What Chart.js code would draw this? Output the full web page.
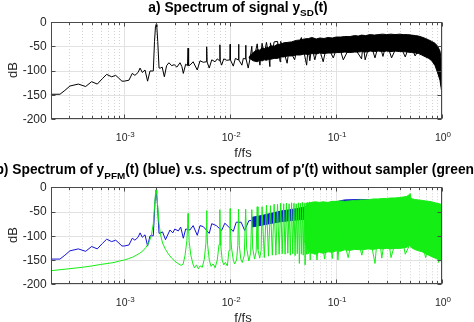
<!DOCTYPE html>
<html>
<head>
<meta charset="utf-8">
<script src="https://cdn.jsdelivr.net/npm/chart.js@4.4.1/dist/chart.umd.min.js"></script>
<style>
  html, body { margin: 0; padding: 0; background: #fff; }
  #wrap { position: relative; width: 474px; height: 322px; overflow: hidden; background: #fff; }
  canvas { position: absolute; left: 0; }
  #sdChart { top: 0; }
  #pfmChart { top: 160px; }
</style>
</head>
<body>
<div id="wrap">
  <canvas id="sdChart" width="474" height="160"></canvas>
  <canvas id="pfmChart" width="474" height="162"></canvas>
</div>
<script>
// ---------- axis ticks ----------
const F_MIN = 2.02e-4;
const F_MAX = 1;
const yTicks = [0, -50, -100, -150, -200];
const xDecades = [1e-3, 1e-2, 1e-1, 1];
const xDecadeExp = ['-3', '-2', '-1', '0'];

// ---------- (a) spectrum of y_SD(t): trace ----------
const sdFreq = [
  2.02e-4, 2.47e-4, 2.75e-4, 3.07e-4, 3.68e-4, 4.32e-4, 4.92e-4, 5.56e-4, 6.2e-4, 6.82e-4,
  7.6e-4, 8.3e-4, 8.9e-4, 9.5e-4, 1.0e-3, 1.107e-3, 1.19e-3, 1.26e-3, 1.35e-3, 1.41e-3,
  1.48e-3, 1.57e-3, 1.66e-3, 1.75e-3, 1.88e-3, 1.93e-3, 1.97e-3, 2.0e-3, 2.03e-3, 2.07e-3,
  2.13e-3, 2.19e-3, 2.28e-3, 2.39e-3, 2.51e-3, 2.64e-3, 2.80e-3, 2.96e-3, 3.14e-3, 3.36e-3,
  3.5e-3, 3.61e-3, 3.8e-3, 3.95e-3, 4.0e-3, 4.05e-3, 4.17e-3, 4.47e-3, 4.89e-3, 5.19e-3,
  5.57e-3, 5.95e-3, 6.0e-3, 6.05e-3, 6.34e-3, 6.7e-3, 7.2e-3, 7.55e-3, 7.95e-3, 8.0e-3,
  8.05e-3, 8.3e-3, 8.7e-3, 9.3e-3, 9.95e-3, 1.0e-2, 1.005e-2, 1.07e-2, 1.12e-2, 1.19e-2,
  1.2e-2, 1.21e-2, 1.29e-2, 1.33e-2, 1.39e-2, 1.4e-2, 1.41e-2, 1.48e-2, 1.55e-2, 1.6e-2,
  1.62e-2, 1.7e-2, 1.8e-2, 1.85e-2, 1.91e-2, 1.95e-2, 2.0e-2, 2.1e-2, 2.2e-2, 2.3e-2,
  2.37e-2, 2.4e-2, 2.5e-2, 2.6e-2, 2.8e-2, 2.96e-2, 3.0e-2, 3.2e-2, 3.45e-2, 3.6e-2,
  4.06e-2, 4.3e-2, 4.7e-2, 4.9e-2, 5.27e-2, 5.45e-2, 5.65e-2, 5.9e-2, 6.3e-2, 6.8e-2,
  7.55e-2, 8.2e-2, 9.4e-2, 0.105, 0.117, 0.14, 0.174, 0.18, 0.188, 0.21,
  0.233, 0.255, 0.277, 0.3, 0.334, 0.39, 0.45, 0.5, 0.557, 0.65,
  0.8, 0.9, 0.96, 0.99, 1.0
];
const sdDb = [
  -149, -149, -141, -132, -128, -133, -123, -128, -117, -108,
  -113, -110, -116, -122, -122, -120, -106, -110, -104, -95,
  -104, -99, -122, -101, -101, -40, -10, -5, -10, -40,
  -95, -95, -93, -113, -90, -84, -90, -88, -93, -84,
  -92, -106, -87, -90, -54, -90, -89, -82, -99, -80,
  -83, -82, -51, -82, -95, -78, -82, -76, -80, -47,
  -80, -89, -76, -79, -78, -46, -78, -91, -75, -78,
  -46, -78, -89, -75, -76, -48, -74, -95, -72, -50,
  -72, -70, -45, -70, -89, -68, -44, -66, -42, -66,
  -92, -43, -62, -41, -40, -82, -40, -60, -85, -55,
  -78, -52, -32, -55, -89, -52, -80, -50, -78, -48,
  -82, -46, -74, -45, -78, -44, -76, -44, -78, -42,
  -74, -42, -71, -42, -74, -42, -72, -43, -70, -46,
  -55, -80, -110, -135, -150
];

// ---------- (a) dense high-frequency part: envelope ----------
const sdBandFreq = [
  0.0150, 0.0165, 0.018, 0.019, 0.020, 0.021, 0.022, 0.023, 0.024, 0.026,
  0.028, 0.030, 0.032, 0.035, 0.038, 0.042, 0.046, 0.050, 0.055, 0.059,
  0.065, 0.070, 0.077, 0.084, 0.092, 0.10, 0.11, 0.121, 0.135, 0.15,
  0.162, 0.174, 0.19, 0.21, 0.23, 0.25, 0.275, 0.30, 0.33, 0.36,
  0.40, 0.43, 0.47, 0.517, 0.56, 0.6, 0.643, 0.70, 0.75, 0.80,
  0.86, 0.91, 0.957, 0.98, 1.0
];
const sdBandHigh = [
  -72, -63, -57, -58, -53, -55, -52, -53, -49, -50,
  -46, -46, -43, -42, -41, -38, -37, -35, -34, -32,
  -35, -33, -34, -32, -33, -31, -31, -30, -30, -28,
  -29, -27, -28, -26, -27, -26, -25, -26, -25, -26,
  -25, -26, -26, -27, -28, -29, -31, -34, -37, -40,
  -44, -50, -60, -75, -100
];
const sdBandLow = [
  -74, -80, -82, -79, -80, -78, -79, -77, -77, -75,
  -75, -72, -72, -70, -70, -68, -68, -66, -67, -65,
  -66, -64, -65, -64, -64, -63, -63, -62, -63, -62,
  -62, -61, -62, -60, -61, -60, -61, -60, -61, -60,
  -61, -61, -62, -63, -64, -65, -68, -72, -75, -80,
  -90, -105, -120, -135, -148
];

// ---------- (b) spectrum of y_PFM(t), blue: trace ----------
const pfmFreq = [
  2.02e-4, 2.47e-4, 2.75e-4, 3.07e-4, 3.68e-4, 4.32e-4, 4.92e-4, 5.56e-4, 6.2e-4, 6.82e-4,
  7.6e-4, 8.3e-4, 8.9e-4, 9.5e-4, 1.0e-3, 1.107e-3, 1.19e-3, 1.26e-3, 1.35e-3, 1.41e-3,
  1.48e-3, 1.57e-3, 1.66e-3, 1.75e-3, 1.88e-3, 1.95e-3, 2.0e-3, 2.05e-3, 2.13e-3, 2.3e-3,
  2.45e-3, 2.7e-3, 2.87e-3, 3.0e-3, 3.24e-3, 3.41e-3, 3.61e-3, 3.8e-3, 4.17e-3, 4.47e-3,
  4.89e-3, 5.19e-3, 5.57e-3, 6.34e-3, 6.7e-3, 7.4e-3, 8.3e-3, 8.9e-3, 1.07e-2, 1.14e-2,
  1.27e-2, 1.37e-2, 1.5e-2, 1.68e-2, 1.91e-2, 2.1e-2, 2.37e-2, 2.6e-2, 2.9e-2, 3.2e-2,
  3.5e-2, 4.0e-2, 6.0e-2, 0.1, 0.3, 0.6, 0.9, 0.97, 1.0
];
const pfmDb = [
  -148, -148, -140, -131, -127, -132, -122, -127, -116, -107,
  -112, -109, -115, -121, -121, -119, -105, -109, -103, -94,
  -103, -98, -121, -100, -100, -30, -6, -30, -95, -92,
  -108, -88, -94, -86, -90, -82, -105, -86, -88, -79,
  -99, -79, -81, -95, -75, -79, -89, -74, -91, -72,
  -72, -89, -69, -68, -60, -71, -54, -64, -51, -57,
  -48, -51, -50, -45, -45, -50, -90, -130, -168
];

// ---------- (b) y_PFM(t) dense part: envelope ----------
const pfmBandFreq = [
  0.016, 0.02, 0.025, 0.03, 0.04, 0.05, 0.06, 0.08, 0.1, 0.12,
  0.17, 0.25, 0.36, 0.5, 0.6, 0.75, 0.86, 0.95, 1.0
];
const pfmBandHigh = [
  -62, -58, -53, -49, -45, -41, -38, -34, -30, -26,
  -25, -27, -27, -25, -29, -35, -45, -58, -70
];
const pfmBandLow = [
  -82, -78, -74, -71, -68, -66, -64, -63, -62, -62,
  -60, -60, -60, -62, -65, -75, -95, -125, -150
];

// ---------- (b) spectrum of p'(t) without sampler, green: trace ----------
const pFreq = [
  2.02e-4, 3.0e-4, 4.0e-4, 5.0e-4, 6.0e-4, 7.0e-4, 8.0e-4, 9.0e-4, 1.0e-3, 1.1e-3,
  1.2e-3, 1.3e-3, 1.4e-3, 1.5e-3, 1.6e-3, 1.7e-3, 1.8e-3, 1.88e-3, 1.93e-3, 1.97e-3,
  2.0e-3, 2.03e-3, 2.07e-3, 2.13e-3, 2.2e-3, 2.3e-3, 2.45e-3, 2.6e-3, 2.8e-3, 3.0e-3,
  3.2e-3, 3.45e-3, 3.6e-3, 3.75e-3, 3.9e-3, 3.97e-3, 4.0e-3, 4.03e-3, 4.1e-3, 4.25e-3,
  4.45e-3, 4.6e-3, 4.8e-3, 5.0e-3, 5.2e-3, 5.45e-3, 5.7e-3, 5.9e-3, 5.97e-3, 6.0e-3,
  6.03e-3, 6.12e-3, 6.35e-3, 6.6e-3, 6.9e-3, 7.2e-3, 7.55e-3, 7.85e-3, 7.97e-3, 8.0e-3,
  8.03e-3, 8.15e-3, 8.4e-3, 8.7e-3, 9.0e-3, 9.4e-3, 9.75e-3, 9.95e-3, 1.0e-2, 1.005e-2,
  1.03e-2, 1.07e-2, 1.1e-2, 1.15e-2, 1.18e-2, 1.2e-2, 1.22e-2, 1.26e-2, 1.3e-2, 1.36e-2,
  1.4e-2, 1.43e-2, 1.5e-2, 1.56e-2, 1.6e-2, 1.63e-2, 1.7e-2, 1.76e-2, 1.8e-2, 1.83e-2,
  1.9e-2, 1.96e-2, 2.0e-2, 2.1e-2, 2.2e-2, 2.3e-2, 2.4e-2, 2.5e-2, 2.6e-2, 2.7e-2,
  2.8e-2, 2.9e-2, 3.0e-2, 3.1e-2, 3.2e-2, 3.3e-2, 3.4e-2, 3.5e-2, 3.6e-2, 3.7e-2,
  3.8e-2, 3.9e-2, 4.0e-2, 4.1e-2, 4.2e-2, 4.3e-2, 4.4e-2, 4.5e-2, 4.6e-2, 4.7e-2,
  4.8e-2, 4.9e-2, 5.0e-2, 5.1e-2, 5.2e-2, 5.3e-2, 5.4e-2, 5.5e-2, 5.6e-2, 5.7e-2,
  5.8e-2, 5.9e-2, 6.0e-2, 6.6e-2, 7.0e-2, 7.8e-2, 8.5e-2, 9.2e-2, 0.1, 0.104,
  0.11, 0.13, 0.15, 0.175, 0.2, 0.233, 0.25, 0.27, 0.3, 0.33,
  0.4, 0.45, 0.6, 0.7, 0.85, 0.93, 0.97, 1.0
];
const pDb = [
  -172, -168, -165, -162, -159, -157, -155, -152, -150, -147,
  -144, -140, -136, -131, -124, -115, -100, -75, -40, -14,
  -5, -14, -40, -75, -98, -115, -128, -137, -146, -152,
  -157, -161, -158, -140, -110, -75, -54, -75, -112, -140,
  -158, -166, -160, -168, -162, -165, -148, -115, -80, -48,
  -80, -118, -150, -163, -158, -166, -150, -118, -85, -46,
  -85, -120, -150, -160, -155, -162, -130, -90, -44, -90,
  -125, -150, -158, -150, -120, -45, -120, -148, -155, -140,
  -45, -125, -152, -135, -46, -125, -148, -132, -40, -128,
  -146, -130, -40, -145, -37, -142, -38, -140, -35, -140,
  -35, -138, -33, -137, -34, -138, -33, -136, -34, -140,
  -32, -137, -33, -141, -34, -137, -32, -157, -33, -138,
  -31, -140, -33, -160, -32, -138, -31, -137, -30, -150,
  -31, -136, -30, -150, -80, -148, -80, -147, -80, -150,
  -80, -145, -80, -140, -80, -157, -80, -146, -80, -145,
  -80, -138, -80, -145, -80, -155, -80, -90
];

// ---------- (b) p'(t) dense part: envelope ----------
const pBandFreq = [
  0.05, 0.055, 0.06, 0.063, 0.07, 0.075, 0.084, 0.092, 0.10, 0.11,
  0.12, 0.135, 0.15, 0.175, 0.2, 0.225, 0.25, 0.275, 0.3, 0.33,
  0.36, 0.4, 0.43, 0.46, 0.48, 0.5, 0.51, 0.53, 0.55, 0.6,
  0.65, 0.7, 0.75, 0.8, 0.86, 0.9, 0.95, 1.0
];
const pBandHigh = [
  -45, -33, -31, -30, -31, -30, -31, -29, -29, -28,
  -29, -28, -27, -26, -26, -24, -24, -23, -23, -22,
  -22, -21, -20, -19, -17, -13, -23, -24, -25, -26,
  -27, -28, -29, -30, -32, -33, -34, -36
];
const pBandLow = [
  -110, -132, -136, -138, -134, -136, -133, -134, -131, -132,
  -129, -130, -128, -129, -127, -128, -126, -127, -126, -127,
  -126, -126, -125, -124, -122, -119, -124, -126, -128, -131,
  -133, -137, -140, -143, -146, -148, -150, -153
];

// ---------- drawing helpers ----------
const FONT = '"Liberation Sans", Arial, Helvetica, sans-serif';
const AXIS_COLOR = '#4a4a4a';
const TEXT_COLOR = '#262626';

function pts(xs, ys) { return xs.map((x, i) => ({ x: x, y: ys[i] })); }

function drawRich(ctx, parts, cx, baseline, size, weight) {
  const items = parts.map(p => {
    const fs = (p.sub || p.sup) ? size * 0.72 : size;
    ctx.font = weight + ' ' + fs + 'px ' + FONT;
    return { p: p, fs: fs, w: ctx.measureText(p.t).width };
  });
  const total = items.reduce((s, it) => s + it.w, 0);
  let x = cx - total / 2;
  ctx.textAlign = 'left';
  ctx.textBaseline = 'alphabetic';
  items.forEach(it => {
    ctx.font = weight + ' ' + it.fs + 'px ' + FONT;
    const dy = it.p.sub ? size * 0.33 : (it.p.sup ? -size * 0.42 : 0);
    ctx.fillText(it.p.t, x, baseline + dy);
    x += it.w;
  });
}

function minorValues() {
  const out = [];
  for (let e = -4; e < 0; e++) {
    for (let k = 2; k <= 9; k++) {
      const v = k * Math.pow(10, e);
      if (v > F_MIN && v < F_MAX) out.push(v);
    }
  }
  return out;
}

// MATLAB-style box axes, grid, tick marks and labels
const matlabAxes = {
  id: 'matlabAxes',
  beforeDatasetsDraw(chart, args, o) {
    const ctx = chart.ctx, a = chart.chartArea;
    const xs = chart.scales.x, ys = chart.scales.y;
    ctx.save();
    ctx.lineWidth = 1;
    // minor x grid (dotted)
    ctx.strokeStyle = '#d2d2d2';
    ctx.setLineDash([1, 2]);
    minorValues().forEach(v => {
      const px = Math.round(xs.getPixelForValue(v)) + 0.5;
      ctx.beginPath(); ctx.moveTo(px, a.top); ctx.lineTo(px, a.bottom); ctx.stroke();
    });
    ctx.setLineDash([]);
    // major grid
    ctx.strokeStyle = '#e2e2e2';
    xDecades.forEach(v => {
      const px = Math.round(xs.getPixelForValue(v)) + 0.5;
      ctx.beginPath(); ctx.moveTo(px, a.top); ctx.lineTo(px, a.bottom); ctx.stroke();
    });
    yTicks.forEach(v => {
      const py = Math.round(ys.getPixelForValue(v)) + 0.5;
      ctx.beginPath(); ctx.moveTo(a.left, py); ctx.lineTo(a.right, py); ctx.stroke();
    });
    ctx.restore();
  },
  afterDatasetsDraw(chart, args, o) {
    const ctx = chart.ctx, a = chart.chartArea;
    const xs = chart.scales.x, ys = chart.scales.y;
    const L = Math.round(a.left) + 0.5, R = Math.round(a.right) - 0.5;
    const T = Math.round(a.top) + 0.5, B = Math.round(a.bottom) - 0.5;
    ctx.save();
    ctx.strokeStyle = AXIS_COLOR;
    ctx.lineWidth = 1;
    ctx.strokeRect(L, T, R - L, B - T);
    // tick marks on all four sides
    ctx.beginPath();
    minorValues().forEach(v => {
      const px = Math.round(xs.getPixelForValue(v)) + 0.5;
      ctx.moveTo(px, B); ctx.lineTo(px, B - 2.5);
      ctx.moveTo(px, T); ctx.lineTo(px, T + 2.5);
    });
    xDecades.forEach(v => {
      const px = Math.round(xs.getPixelForValue(v)) + 0.5;
      ctx.moveTo(px, B); ctx.lineTo(px, B - 4);
      ctx.moveTo(px, T); ctx.lineTo(px, T + 4);
    });
    yTicks.forEach(v => {
      const py = Math.round(ys.getPixelForValue(v)) + 0.5;
      ctx.moveTo(L, py); ctx.lineTo(L + 4, py);
      ctx.moveTo(R, py); ctx.lineTo(R - 4, py);
    });
    ctx.stroke();

    ctx.fillStyle = TEXT_COLOR;
    // y tick labels
    ctx.font = '12px ' + FONT;
    ctx.textAlign = 'right';
    ctx.textBaseline = 'middle';
    yTicks.forEach(v => ctx.fillText(String(v), a.left - 4, ys.getPixelForValue(v) + 0.5));
    // x tick labels 10^n
    xDecades.forEach((v, i) => {
      const px = xs.getPixelForValue(v);
      ctx.font = '10.5px ' + FONT;
      const wb = ctx.measureText('10').width;
      ctx.font = '8px ' + FONT;
      const we = ctx.measureText(xDecadeExp[i]).width;
      const x0 = px - (wb + we) / 2 + 1;
      ctx.textAlign = 'left';
      ctx.textBaseline = 'alphabetic';
      ctx.font = '10.5px ' + FONT;
      ctx.fillText('10', x0, a.bottom + 21.5);
      ctx.font = '8px ' + FONT;
      ctx.fillText(xDecadeExp[i], x0 + wb, a.bottom + 17.5);
    });
    // axis titles
    ctx.font = '13px ' + FONT;
    ctx.textAlign = 'center';
    ctx.textBaseline = 'alphabetic';
    ctx.fillText('f/fs', o.xTitleX, o.xTitleY);
    ctx.save();
    ctx.translate(o.yTitleX, o.yTitleY);
    ctx.rotate(-Math.PI / 2);
    ctx.textBaseline = 'middle';
    ctx.fillText('dB', 0, 0);
    ctx.restore();
    // plot title
    ctx.fillStyle = '#000';
    drawRich(ctx, o.title, o.titleX, o.titleY, 13.8, 'bold');
    ctx.restore();
  }
};

function lineSet(data, color, order, extra) {
  return Object.assign({
    data: data, borderColor: color, backgroundColor: color, borderWidth: 1,
    pointRadius: 0, tension: 0, fill: false, order: order, clip: 0
  }, extra || {});
}

function makeChart(id, datasets, padding, axesOpts) {
  return new Chart(document.getElementById(id), {
    type: 'line',
    data: { datasets: datasets },
    options: {
      responsive: false,
      animation: false,
      devicePixelRatio: 1,
      layout: { padding: padding },
      events: [],
      plugins: { legend: { display: false }, tooltip: { enabled: false }, matlabAxes: axesOpts },
      scales: {
        x: { type: 'logarithmic', min: F_MIN, max: F_MAX, display: false },
        y: { type: 'linear', min: -200, max: 0, display: false }
      }
    },
    plugins: [matlabAxes]
  });
}

// (a) y_SD(t)
makeChart('sdChart', [
  lineSet(pts(sdFreq, sdDb), '#000000', 0),
  lineSet(pts(sdBandFreq, sdBandHigh), '#000000', 1),
  lineSet(pts(sdBandFreq, sdBandLow), '#000000', 1, { fill: '-1', backgroundColor: '#000000' })
], { left: 50.7, right: 32, top: 22, bottom: 41 }, {
  title: [{ t: 'a) Spectrum of signal y' }, { t: 'SD', sub: true }, { t: '(t)' }],
  titleX: 238, titleY: 11.5,
  xTitleX: 243, xTitleY: 156.5,
  yTitleX: 13, yTitleY: 70
});

// (b) y_PFM(t) in blue under p'(t) in green
makeChart('pfmChart', [
  lineSet(pts(pfmBandFreq, pfmBandHigh), '#1414d8', 5),
  lineSet(pts(pfmBandFreq, pfmBandLow), '#1414d8', 4, { fill: '-1', backgroundColor: '#1414d8' }),
  lineSet(pts(pfmFreq, pfmDb), '#1414d8', 3),
  lineSet(pts(pBandFreq, pBandHigh), '#14ee14', 2),
  lineSet(pts(pBandFreq, pBandLow), '#14ee14', 1, { fill: '-1', backgroundColor: '#14ee14' }),
  lineSet(pts(pFreq, pDb), '#14ee14', 0)
], { left: 50.7, right: 32, top: 27.3, bottom: 37.7 }, {
  title: [{ t: 'b) Spectrum of y' }, { t: 'PFM', sub: true }, { t: '(t) (blue) v.s. spectrum of p\u2032(t) without sampler (green)' }],
  titleX: 237, titleY: 14,
  xTitleX: 243, xTitleY: 161.5,
  yTitleX: 13, yTitleY: 75
});
</script>
</body>
</html>
